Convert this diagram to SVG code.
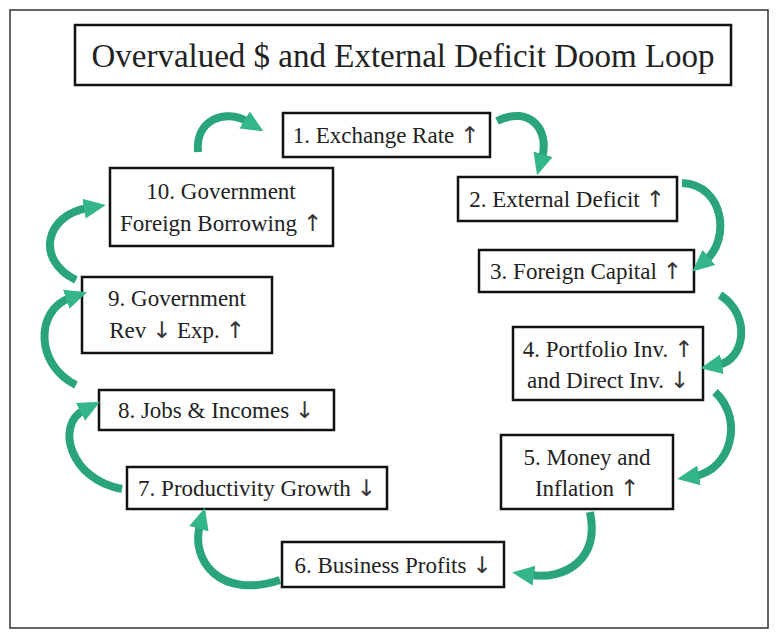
<svg xmlns="http://www.w3.org/2000/svg" width="781" height="638" viewBox="0 0 781 638">
<style>
.box{fill:#fff;stroke:#111;stroke-width:2.5}
.t{font-family:"Liberation Serif","Times New Roman",serif;font-size:23px;fill:#222;text-anchor:middle}
.a{font-family:"DejaVu Sans",sans-serif;fill:#333}
.c{fill:none;stroke:#2aa57a;stroke-width:8;stroke-linecap:butt}
</style>
<defs>
<marker id="ah" markerUnits="userSpaceOnUse" markerWidth="24" markerHeight="24" refX="4" refY="12" orient="auto">
<path d="M0,2 L22,12 L0,22 Z" fill="#35b58a"/>
</marker>
</defs>
<rect x="10" y="10" width="758" height="618" fill="#fff" stroke="#333" stroke-width="1.5"/>
<g id="title"><rect class="box" x="75" y="25" width="656" height="60"/><text class="t" x="403" y="67" style="font-size:33px">Overvalued $ and External Deficit Doom Loop</text></g>
<g id="n1"><rect class="box" x="283" y="113" width="207" height="44"/><text class="t" x="386" y="143">1. Exchange Rate <tspan class="a">↑</tspan></text></g>
<g id="n2"><rect class="box" x="458" y="177" width="219" height="44"/><text class="t" x="567" y="207">2. External Deficit <tspan class="a">↑</tspan></text></g>
<g id="n3"><rect class="box" x="479" y="250" width="215" height="42"/><text class="t" x="586" y="279">3. Foreign Capital <tspan class="a">↑</tspan></text></g>
<g id="n4"><rect class="box" x="513" y="327" width="190" height="73"/><text class="t" x="608" y="357">4. Portfolio Inv. <tspan class="a">↑</tspan></text><text class="t" x="608" y="388">and Direct Inv. <tspan class="a">↓</tspan></text></g>
<g id="n5"><rect class="box" x="501" y="435" width="172" height="74"/><text class="t" x="587" y="465">5. Money and</text><text class="t" x="587" y="496">Inflation <tspan class="a">↑</tspan></text></g>
<g id="n6"><rect class="box" x="282" y="542" width="222" height="45"/><text class="t" x="393" y="573">6. Business Profits <tspan class="a">↓</tspan></text></g>
<g id="n7"><rect class="box" x="127" y="467" width="260" height="42"/><text class="t" x="257" y="496">7. Productivity Growth <tspan class="a">↓</tspan></text></g>
<g id="n8"><rect class="box" x="99" y="390" width="235" height="40"/><text class="t" x="216" y="418">8. Jobs &amp; Incomes <tspan class="a">↓</tspan></text></g>
<g id="n9"><rect class="box" x="82" y="277" width="190" height="76"/><text class="t" x="177" y="306">9. Government</text><text class="t" x="177" y="338">Rev <tspan class="a">↓</tspan>  Exp. <tspan class="a">↑</tspan></text></g>
<g id="n10"><rect class="box" x="110" y="168" width="223" height="78"/><text class="t" x="221" y="199">10. Government</text><text class="t" x="221" y="231">Foreign Borrowing <tspan class="a">↑</tspan></text></g>
<g id="connectors">
<path class="c" marker-end="url(#ah)" d="M198,152 C195,120 225,108 248,122"/>
<path class="c" marker-end="url(#ah)" d="M497,121 C530,105 550,130 542,158"/>
<path class="c" marker-end="url(#ah)" d="M682,183 C725,185 730,240 706,260"/>
<path class="c" marker-end="url(#ah)" d="M720,295 C752,315 745,360 718,365"/>
<path class="c" marker-end="url(#ah)" d="M715,392 C745,420 730,470 695,476"/>
<path class="c" marker-end="url(#ah)" d="M590,512 C600,560 565,580 530,575"/>
<path class="c" marker-end="url(#ah)" d="M280,580 C220,600 190,560 200,525"/>
<path class="c" marker-end="url(#ah)" d="M122,489 C70,480 55,425 84,410"/>
<path class="c" marker-end="url(#ah)" d="M76,385 C35,365 35,310 70,298"/>
<path class="c" marker-end="url(#ah)" d="M76,280 C35,260 45,215 88,208"/>
</g>
</svg>
